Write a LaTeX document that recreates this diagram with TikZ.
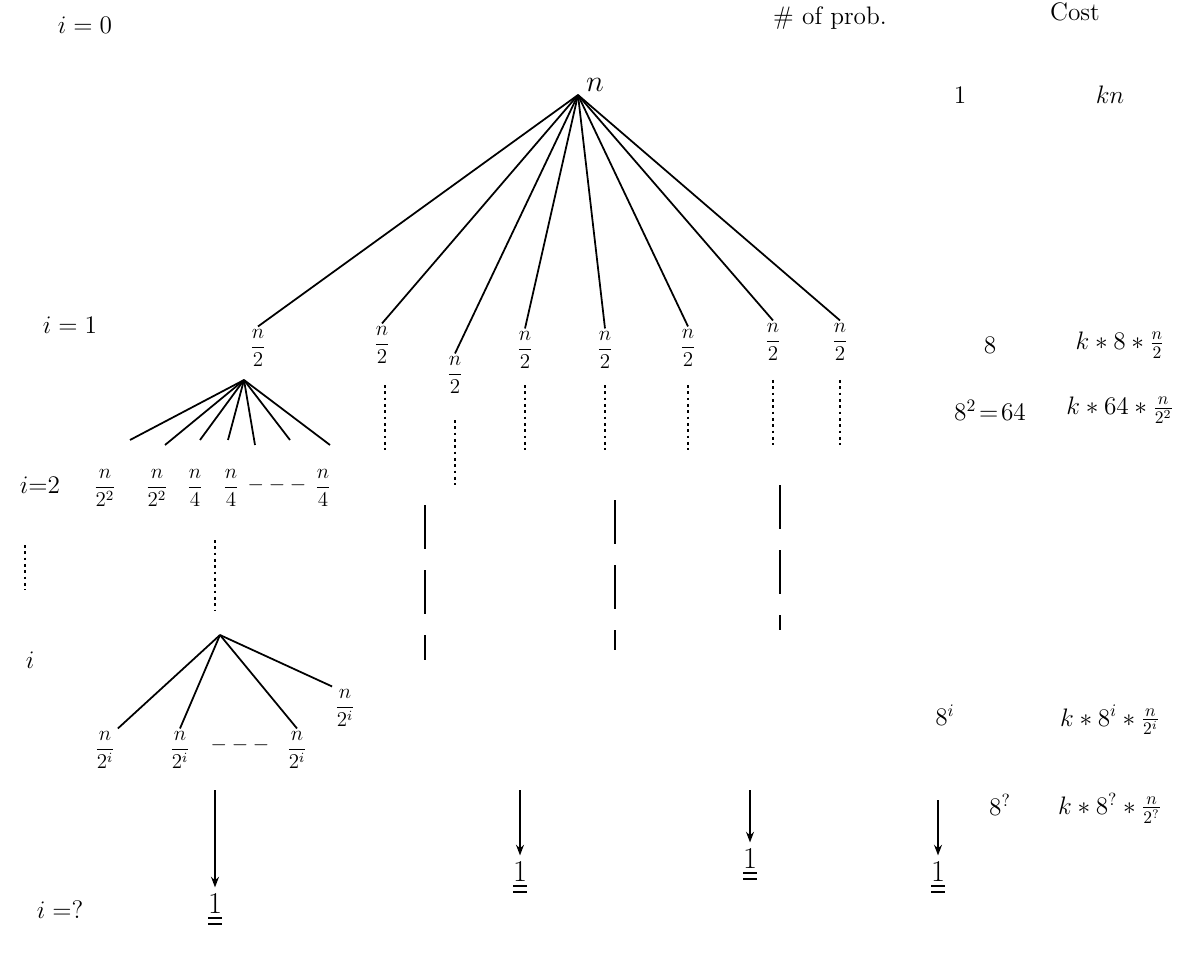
\documentclass[tikz,border=0pt]{standalone}
\usepackage{amsmath}
\usetikzlibrary{arrows.meta}
\begin{document}
\begin{tikzpicture}[x=0.02cm,y=-0.02cm,line width=1pt,
  lab/.style={font=\Large},
  fr/.style={font=\large,inner sep=1pt},
  dotsv/.style={dotted,line width=1.6pt},
  dsh/.style={dash pattern=on 25pt off 12pt},
  arr/.style={-{Stealth[length=6pt]}},
  one/.style={font=\LARGE}]
\useasboundingbox (0,0) rectangle (1192,979);
% headers
\node[lab] (i0) at (85,25) {$i=0$};
\node[lab] (hp) at (830,18) {\# of prob.};
\node[lab] (hc) at (1075,12) {Cost};
\node[font=\LARGE] (root) at (595,85) {$n$};
\coordinate (r) at (578,95);
\node[lab] (c1) at (960,95) {$1$};
\node[lab] (k1) at (1110,95) {$kn$};
% level 1
\node[lab] (i1) at (70,325) {$i=1$};
\foreach \nm/\x/\y in {a/258/348,b/382/345,c/455/375,d/525/350,e/605/350,f/688/348,g/773/342,h/840/342}{
  \node[fr] (\nm) at (\x,\y) {$\dfrac{n}{2}$};}
\foreach \nm in {a,b,c,d,e,f,g,h}{\draw (r) -- (\nm.north);}
\node[lab] (c2) at (990,345) {$8$};
\node[lab] (k2) at (1120,345) {$k\ast8\ast\frac{n}{2}$};
\node[lab] (c3) at (990,410) {$8^2\!=\!64$};
\node[lab] (k3) at (1120,410) {$k\ast64\ast\frac{n}{2^2}$};
% dots under level-1 nodes
\foreach \x/\y in {385/385,455/420,525/385,605/385,688/385,773/380,840/380}{
  \draw[dotsv] (\x,\y) -- (\x,\y+65);}
% level 2
\coordinate (a2) at (244,380);
\node[lab] (i2) at (40,485) {$i{=}2$};
\node[fr] (l1) at (105,488) {$\dfrac{n}{2^2}$};
\node[fr] (l2) at (157,488) {$\dfrac{n}{2^2}$};
\node[fr] (l3) at (195,488) {$\dfrac{n}{4}$};
\node[fr] (l4) at (231,488) {$\dfrac{n}{4}$};
\node[font=\large] (l5) at (277,485) {$---$};
\node[fr] (l6) at (323,488) {$\dfrac{n}{4}$};
\foreach \x/\y in {130/440,165/445,200/440,228/440,255/445,290/440,330/445}{
  \draw (a2) -- (\x,\y);}
\draw[dotsv] (215,540) -- (215,610);
\draw[dotsv] (25,545) -- (25,590);
% level i
\node[lab] (ii) at (30,660) {$i$};
\coordinate (p) at (220,635);
\node[fr] (m1) at (105,750) {$\dfrac{n}{2^i}$};
\node[fr] (m2) at (180,750) {$\dfrac{n}{2^i}$};
\node[font=\large] (m3) at (240,745) {$---$};
\node[fr] (m4) at (297,750) {$\dfrac{n}{2^i}$};
\node[fr] (m5) at (345,708) {$\dfrac{n}{2^i}$};
\draw (p) -- (m1.north east);
\draw (p) -- (m2.north);
\draw (p) -- (m4.north);
\draw (p) -- (m5.north west);
% long dashes
\draw[dsh] (425,505) -- (425,660);
\draw[dsh] (615,500) -- (615,650);
\draw[dsh] (780,485) -- (780,630);
\node[lab] (c4) at (945,715) {$8^{i}$};
\node[lab] (k4) at (1110,720) {$k\ast8^{i}\ast\frac{n}{2^{i}}$};
% leaves
\node[one] (o1) at (215,910) {$\underline{\underline{1}}$};
\node[one] (o2) at (520,878) {$\underline{\underline{1}}$};
\node[one] (o3) at (750,865) {$\underline{\underline{1}}$};
\node[one] (o4) at (938,878) {$\underline{\underline{1}}$};
\coordinate (s1) at (215,790);
\coordinate (s2) at (520,790);
\coordinate (s3) at (750,790);
\coordinate (s4) at (938,800);
\draw[arr] (s1) -- (o1.north);
\draw[arr] (s2) -- (o2.north);
\draw[arr] (s3) -- (o3.north);
\draw[arr] (s4) -- (o4.north);
\node[lab] (c5) at (1000,805) {$8^{?}$};
\node[lab] (k5) at (1110,808) {$k\ast8^{?}\ast\frac{n}{2^{?}}$};
\node[lab] (iq) at (60,910) {$i=?$};
\end{tikzpicture}
\end{document}
